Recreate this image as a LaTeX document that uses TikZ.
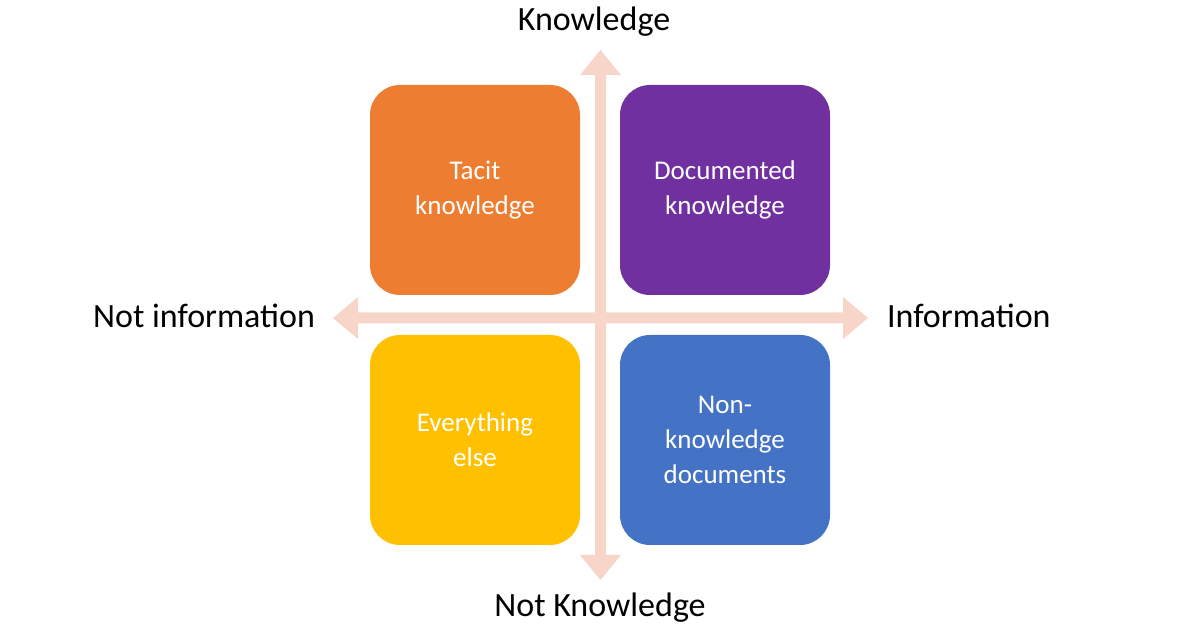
\documentclass[tikz,border=0pt]{standalone}
\usepackage{fontspec}
\setmainfont{Carlito}
\begin{document}
\begin{tikzpicture}[x=0.5pt,y=-0.5pt,
  box/.style={rounded corners=15pt,minimum width=105pt,minimum height=105pt,inner sep=0pt,text=white,align=center,font=\fontsize{13.5}{17.5}\selectfont},
  lbl/.style={font=\fontsize{17}{20}\selectfont}]
\definecolor{arr}{HTML}{F8D5C9}
\definecolor{cor}{HTML}{ED7D31}
\definecolor{cpu}{HTML}{7030A0}
\definecolor{cye}{HTML}{FFC000}
\definecolor{cbl}{HTML}{4472C4}
\useasboundingbox (0,0) rectangle (1200,630);
% arrows
\fill[arr] (595,75) -- (580,75) -- (600.5,50) -- (621,75) -- (606,75) -- (606,555) -- (621,555) -- (600.5,580) -- (580,555) -- (595,555) -- cycle;
\fill[arr] (358,312.5) -- (358,297) -- (333,318) -- (358,339) -- (358,323.5) -- (843,323.5) -- (843,339) -- (868,318) -- (843,297) -- (843,312.5) -- cycle;
\node[box,fill=cor] (tk) at (475,190) {Tacit\\knowledge};
\node[box,fill=cpu] (dk) at (725,190) {Documented\\knowledge};
\node[box,fill=cye] (ee) at (475,440) {Everything\\else};
\node[box,fill=cbl] (nk) at (725,440) {Non-\\knowledge\\documents};
\node[lbl] (k) at (594,22) {Knowledge};
\node[lbl] (nkl) at (600,608) {Not Knowledge};
\node[lbl,anchor=east] (ni) at (322,316) {Not information};
\node[lbl,anchor=west] (inf) at (880,316) {Information};
\end{tikzpicture}
\end{document}
